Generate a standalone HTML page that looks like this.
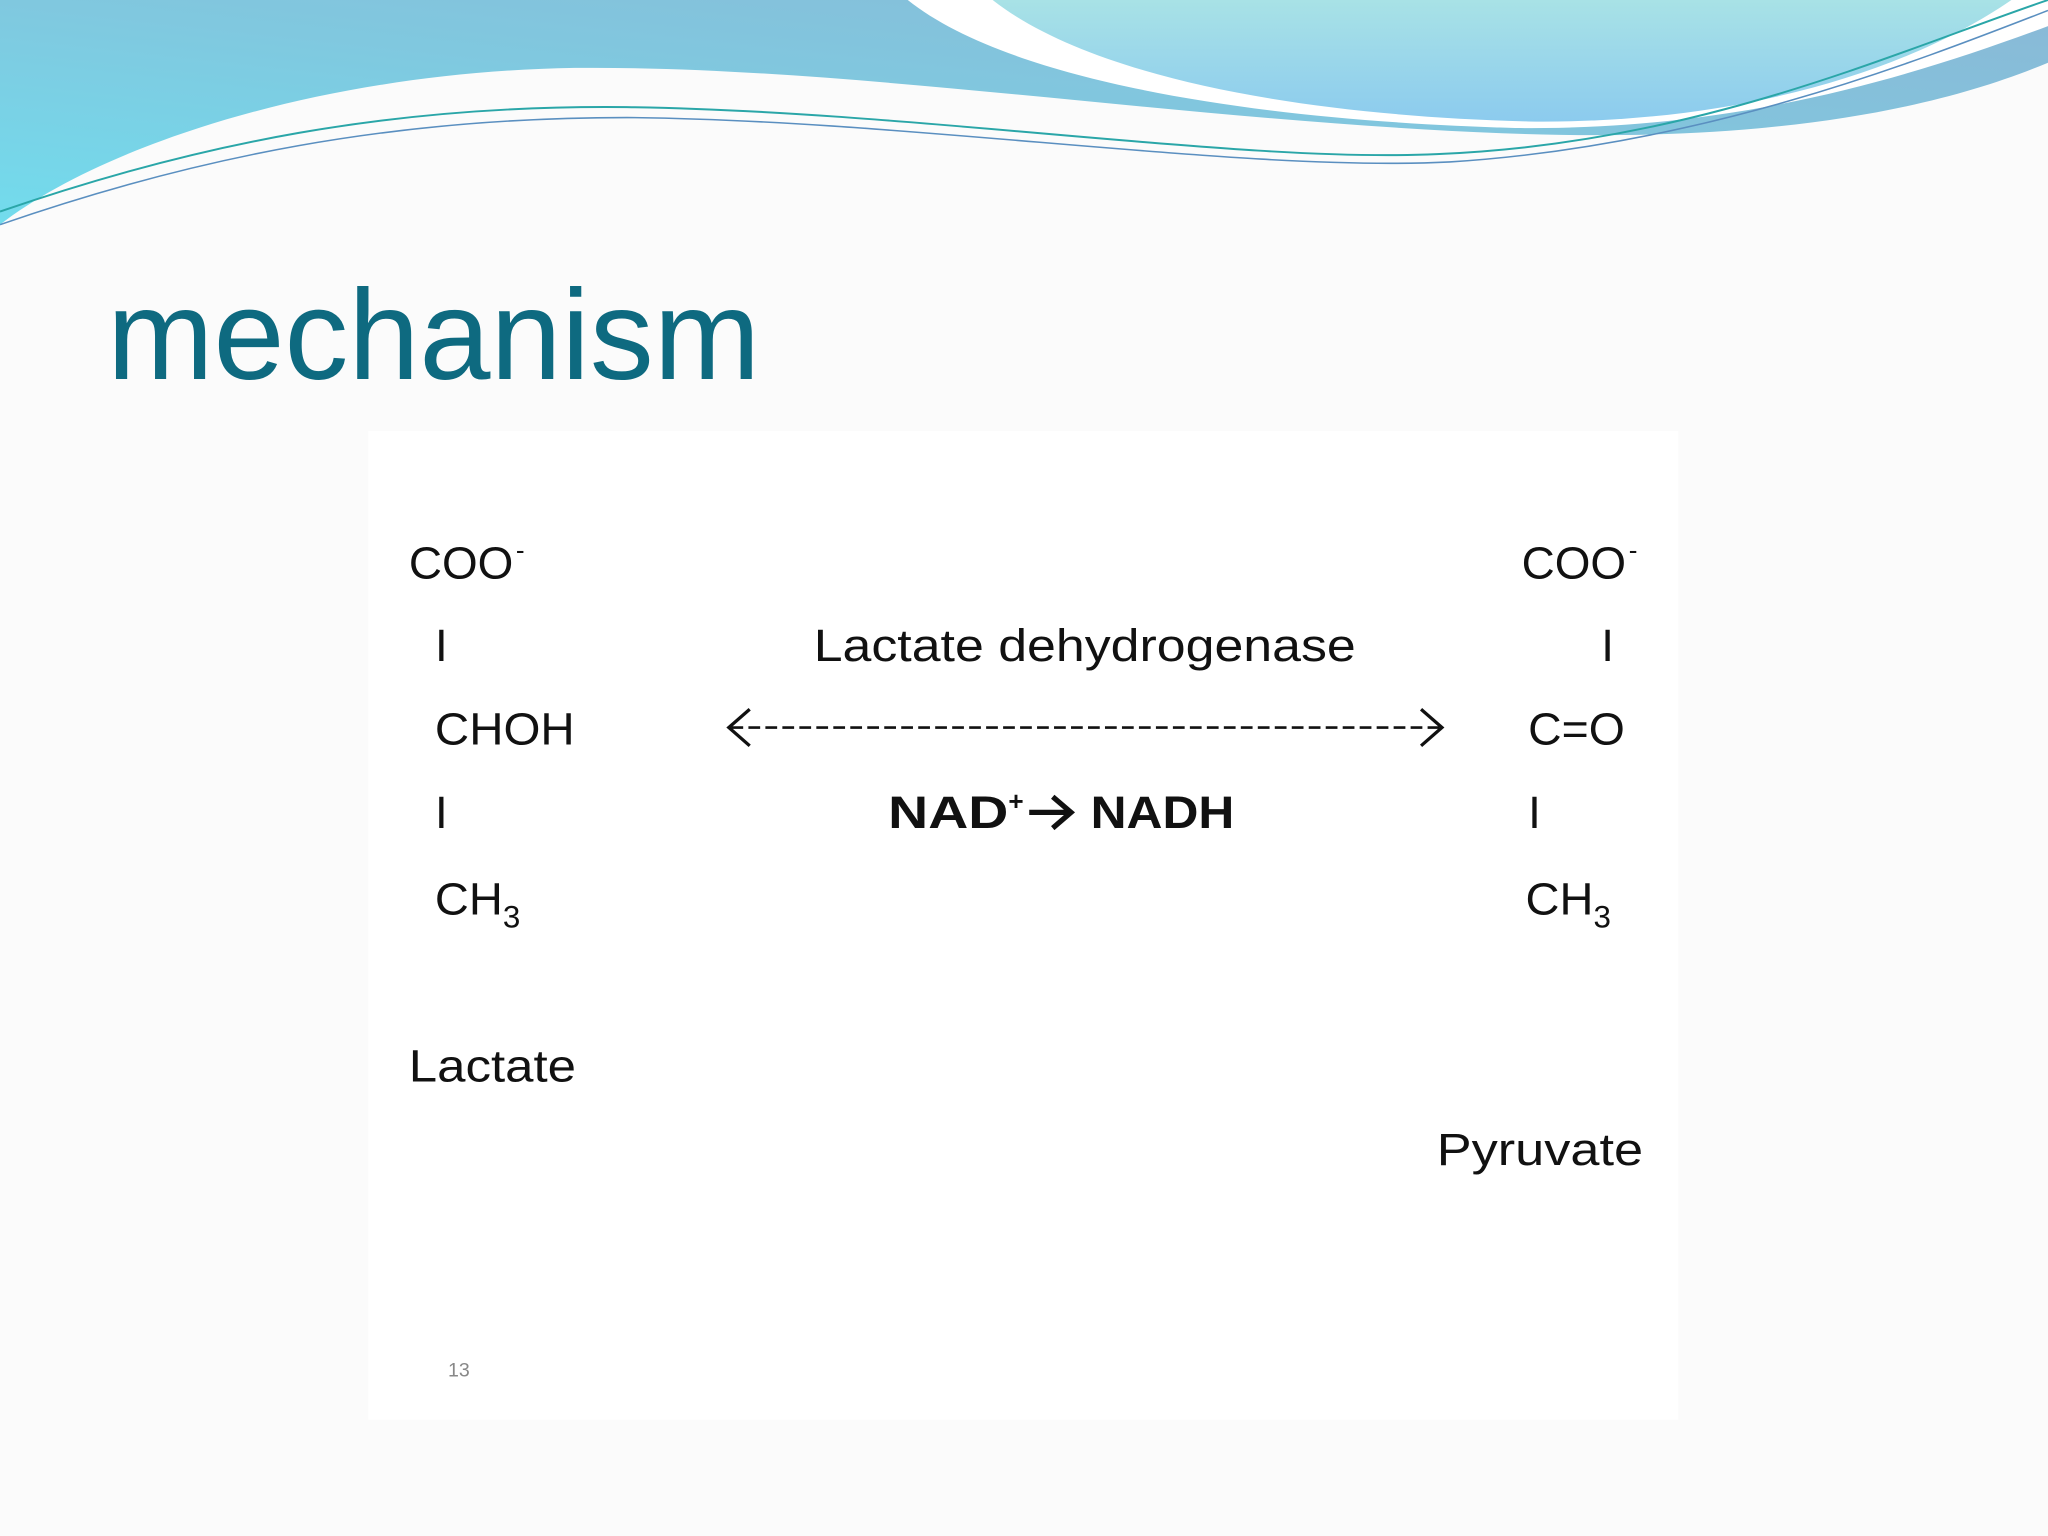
<!DOCTYPE html>
<html><head><meta charset="utf-8"><style>
html,body{margin:0;padding:0;background:#fbfbfb;}
svg{display:block;}
text{font-family:"Liberation Sans",sans-serif;fill:#111;}
</style></head><body>
<svg width="2048" height="1536" viewBox="0 0 1568 1176" xmlns="http://www.w3.org/2000/svg">
<defs>
<linearGradient id="g1" x1="0" y1="1" x2="1" y2="0">
<stop offset="0" stop-color="#72dced"/><stop offset="0.5" stop-color="#80c8df"/><stop offset="1" stop-color="#8ab8d6"/>
</linearGradient>
<linearGradient id="g2" x1="0" y1="0" x2="0" y2="1">
<stop offset="0" stop-color="#a8e2e6"/><stop offset="1" stop-color="#8ccbee"/>
</linearGradient>
</defs>
<rect width="1568" height="1176" fill="#fbfbfb"/>
<!-- blue band -->
<path d="M0,0 L1568,0 L1568,48 C1480,85 1350,110 1150,102 C900,92 650,50 440,52 C250,55 80,110 0,172 Z" fill="url(#g1)"/>
<!-- right light shape with white gap -->
<path d="M695,0 C770,60 950,92 1160,98 C1330,100 1460,60 1568,20 L1568,0 Z" fill="#ffffff"/>
<path d="M760,0 C830,55 980,88 1170,93 C1330,95 1460,55 1540,0 Z" fill="url(#g2)"/>
<!-- thin lines -->
<path d="M0,162 C150,110 300,80 480,82 C700,85 950,125 1100,118 C1300,110 1450,40 1568,0" fill="none" stroke="#2aa6a8" stroke-width="1.5"/>
<path d="M0,172 C150,120 300,90 480,90 C700,92 950,132 1110,124 C1300,112 1460,50 1568,8" fill="none" stroke="#5a8fc0" stroke-width="1.2"/>
<!-- title -->
<text x="82" y="290" font-size="98" style="fill:#0e6a80" textLength="500" lengthAdjust="spacingAndGlyphs">mechanism</text>
<!-- panel -->
<rect x="282" y="330" width="1003" height="757" fill="#ffffff"/>
<g font-size="35">
<text x="313" y="443" textLength="80" lengthAdjust="spacingAndGlyphs">COO</text><text x="395" y="428" font-size="20">-</text>
<text x="333" y="506">I</text>
<text x="333" y="570" textLength="107" lengthAdjust="spacingAndGlyphs">CHOH</text>
<text x="333" y="634">I</text>
<text x="333" y="700" textLength="52" lengthAdjust="spacingAndGlyphs">CH</text><text x="385" y="710" font-size="24">3</text>
<text x="313" y="828" textLength="128" lengthAdjust="spacingAndGlyphs">Lactate</text>
<text x="1165" y="443" textLength="80" lengthAdjust="spacingAndGlyphs">COO</text><text x="1247" y="428" font-size="20">-</text>
<text x="1226" y="506">I</text>
<text x="1170" y="570" textLength="74" lengthAdjust="spacingAndGlyphs">C=O</text>
<text x="1170" y="634">I</text>
<text x="1168" y="700" textLength="52" lengthAdjust="spacingAndGlyphs">CH</text><text x="1220" y="710" font-size="24">3</text>
<text x="1100" y="892" textLength="158" lengthAdjust="spacingAndGlyphs">Pyruvate</text>
<text x="623" y="506" textLength="415" lengthAdjust="spacingAndGlyphs">Lactate dehydrogenase</text>
<text x="680" y="634" font-weight="bold" textLength="92" lengthAdjust="spacingAndGlyphs">NAD</text><text x="772" y="620" font-size="20" font-weight="bold">+</text>
<text x="835" y="634" font-weight="bold" textLength="110" lengthAdjust="spacingAndGlyphs">NADH</text>
</g>
<path d="M788,622 L818,622 M806,610 L820,622 L806,634" fill="none" stroke="#111" stroke-width="4"/>
<line x1="560" y1="557" x2="1102" y2="557" stroke="#111" stroke-width="2" stroke-dasharray="9,4"/>
<path d="M574,543 L558,557 L574,571" fill="none" stroke="#111" stroke-width="2.5"/>
<path d="M1088,543 L1104,557 L1088,571" fill="none" stroke="#111" stroke-width="2.5"/>
<text x="343" y="1054" font-size="15" style="fill:#888">13</text>
</svg>
</body></html>
